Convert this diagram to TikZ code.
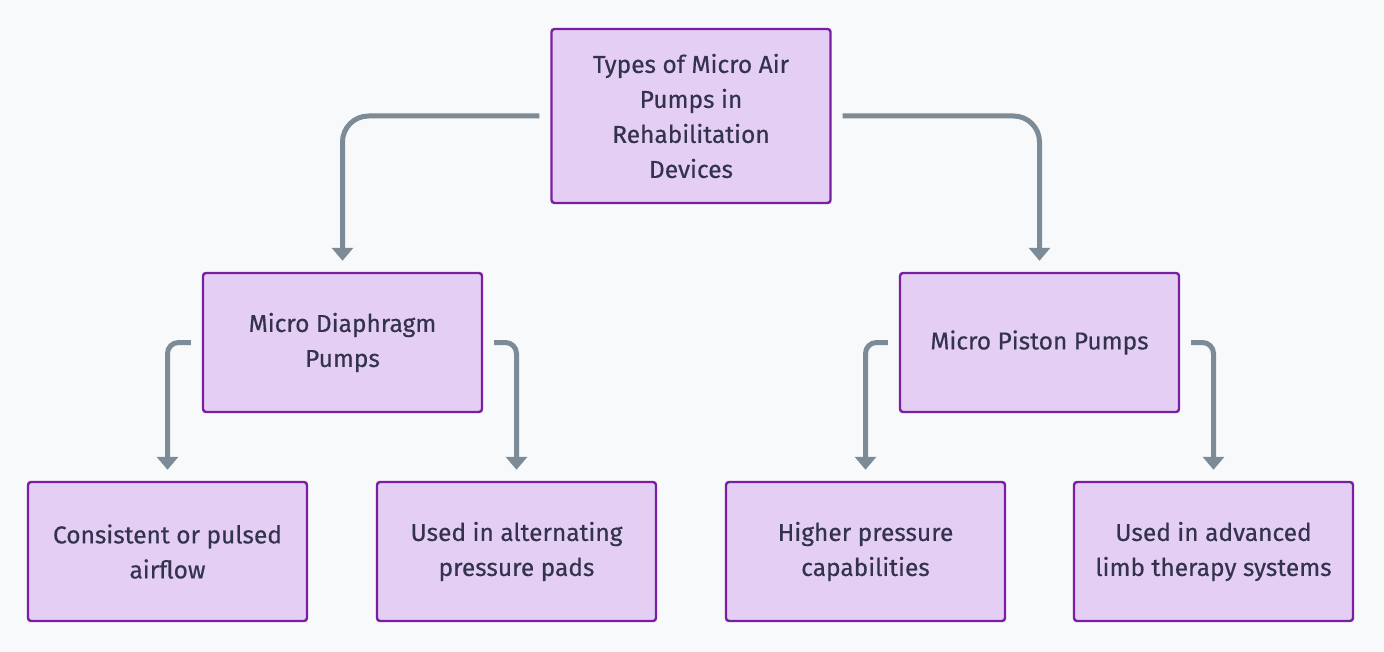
\documentclass[tikz,border=0pt]{standalone}
\usepackage{fontspec}
\setmainfont{Fira Sans}[FakeBold=0.4]
\usetikzlibrary{arrows.meta}
\definecolor{bg}{HTML}{F8F9FA}
\definecolor{nodefill}{HTML}{E4CEF4}
\definecolor{nodeline}{HTML}{7B1FA2}
\definecolor{txt}{HTML}{33334D}
\definecolor{edgecol}{HTML}{7D8B96}
\tikzset{
  box/.style={draw=nodeline, fill=nodefill, line width=2.4pt, rounded corners=3pt,
    minimum width=279pt, minimum height=139pt, align=center, text=txt,
    font=\fontsize{24.5}{35}\selectfont, inner sep=0pt},
  topbox/.style={box, minimum height=174pt},
  edge/.style={draw=edgecol, line width=5pt, -{Triangle[width=21pt,length=13pt]}},
}
\begin{document}
\begin{tikzpicture}[x=1pt,y=-1pt]
\useasboundingbox[fill=bg] (0,0) rectangle (1384,652);
\node[topbox] (top) at (691,116) {Types of Micro Air\\Pumps in\\Rehabilitation\\Devices};
\node[box] (dia) at (342.5,342.5) {Micro Diaphragm\\Pumps};
\node[box] (pis) at (1039.5,342.5) {Micro Piston Pumps};
\node[box] (b1) at (167.5,551.5) {Consistent or pulsed\\airflow};
\node[box] (b2) at (516.5,551.5) {Used in alternating\\pressure pads};
\node[box] (b3) at (865.5,551.5) {Higher pressure\\capabilities};
\node[box] (b4) at (1213.5,551.5) {Used in advanced\\limb therapy systems};
\draw[edge, rounded corners=26pt] ([xshift=-11pt]top.west) -| ([yshift=11pt]dia.north);
\draw[edge, rounded corners=26pt] ([xshift=11pt]top.east) -| ([yshift=11pt]pis.north);
\draw[edge, rounded corners=11pt] ([xshift=-11pt]dia.west) -| ([yshift=11pt]b1.north);
\draw[edge, rounded corners=11pt] ([xshift=11pt]dia.east) -| ([yshift=11pt]b2.north);
\draw[edge, rounded corners=11pt] ([xshift=-11pt]pis.west) -| ([yshift=11pt]b3.north);
\draw[edge, rounded corners=11pt] ([xshift=11pt]pis.east) -| ([yshift=11pt]b4.north);
\end{tikzpicture}
\end{document}
